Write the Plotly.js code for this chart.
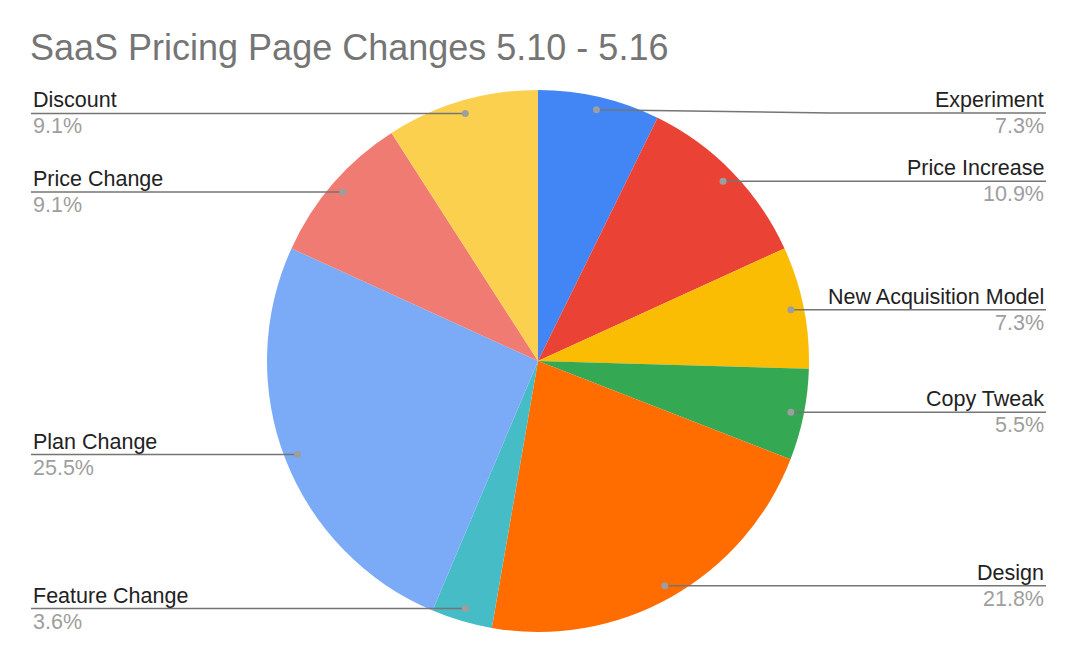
<!DOCTYPE html>
<html>
<head>
<meta charset="utf-8">
<script src="https://cdn.plot.ly/plotly-3.0.1.min.js"></script>
<style>
  html, body { margin: 0; padding: 0; background: #fff; }
  #plot { width: 1078px; height: 664px; }
</style>
</head>
<body>
<div id="plot"></div>
<script>
// Chart data (counts out of 55, read from the percentages)
var categories = ['Experiment', 'Price Increase', 'New Acquisition Model', 'Copy Tweak',
  'Design', 'Feature Change', 'Plan Change', 'Price Change', 'Discount'];
var counts = [4, 6, 4, 3, 12, 2, 14, 5, 5];
var sliceColors = ['#4285f4', '#ea4335', '#fbbc04', '#34a853',
  '#ff6d01', '#46bdc6', '#7baaf7', '#f07b72', '#fcd04f'];

var W = 1078, H = 664;
// pie geometry in pixels
var cx = 538, cy = 361, R = 271;
var dotR = 0.952 * R;   // where the leader line starts inside each slice
var minLabelY = 113;    // top-most label line
var leftX = 31, rightX = 1046;
var labelFont = 'Arial, Liberation Sans, sans-serif';

function px(x) { return x / W; }
function py(y) { return 1 - y / H; }

var total = counts.reduce(function (a, b) { return a + b; }, 0);

var annotations = [];
var shapes = [];
var cum = 0;
for (var i = 0; i < counts.length; i++) {
  var mid = (cum + counts[i] / 2) / total * 2 * Math.PI;
  cum += counts[i];
  var dx = cx + dotR * Math.sin(mid);
  var dy = cy - dotR * Math.cos(mid);
  var right = Math.sin(mid) > 0;
  var ly = Math.max(dy, minLabelY);
  var edgeX = right ? rightX : leftX;
  var kneeX = right ? Math.max(dx, 830) : Math.min(dx, 248);
  if (Math.abs(ly - dy) < 0.5) kneeX = dx;

  // leader line: dot -> knee -> label edge
  shapes.push({
    type: 'path', xref: 'paper', yref: 'paper',
    path: 'M' + px(dx) + ',' + py(dy) + ' L' + px(kneeX) + ',' + py(ly) +
          ' L' + px(edgeX) + ',' + py(ly),
    line: { color: '#757575', width: 1.5 }
  });
  shapes.push({
    type: 'circle', xref: 'paper', yref: 'paper',
    x0: px(dx - 3.5), x1: px(dx + 3.5), y0: py(dy + 3.5), y1: py(dy - 3.5),
    fillcolor: '#9e9e9e', line: { width: 0 }
  });

  var pct = (counts[i] / total * 100).toFixed(1) + '%';
  annotations.push({
    xref: 'paper', yref: 'paper', x: px(edgeX), y: py(ly + 1),
    xanchor: right ? 'right' : 'left', yanchor: 'bottom',
    text: categories[i], showarrow: false,
    font: { family: labelFont, size: 21.5, color: '#222222' }
  });
  annotations.push({
    xref: 'paper', yref: 'paper', x: px(edgeX), y: py(ly - 1),
    xanchor: right ? 'right' : 'left', yanchor: 'top',
    text: pct, showarrow: false,
    font: { family: labelFont, size: 21.5, color: '#9e9e9e' }
  });
}

var trace = {
  type: 'pie',
  labels: categories,
  values: counts,
  sort: false,
  direction: 'clockwise',
  rotation: 0,
  textinfo: 'none',
  hoverinfo: 'label+percent',
  marker: { colors: sliceColors, line: { color: '#ffffff', width: 0 } },
  domain: { x: [px(cx - R), px(cx + R)], y: [py(cy + R), py(cy - R)] }
};

var layout = {
  width: W,
  height: H,
  margin: { l: 0, r: 0, t: 0, b: 0 },
  paper_bgcolor: '#ffffff',
  showlegend: false,
  title: {
    text: 'SaaS Pricing Page Changes 5.10 - 5.16',
    x: px(30), xanchor: 'left',
    y: py(47), yanchor: 'middle',
    font: { family: labelFont, size: 36, color: '#757575' }
  },
  annotations: annotations,
  shapes: shapes
};

Plotly.newPlot('plot', [trace], layout, { displayModeBar: false, staticPlot: true });
</script>
</body>
</html>
